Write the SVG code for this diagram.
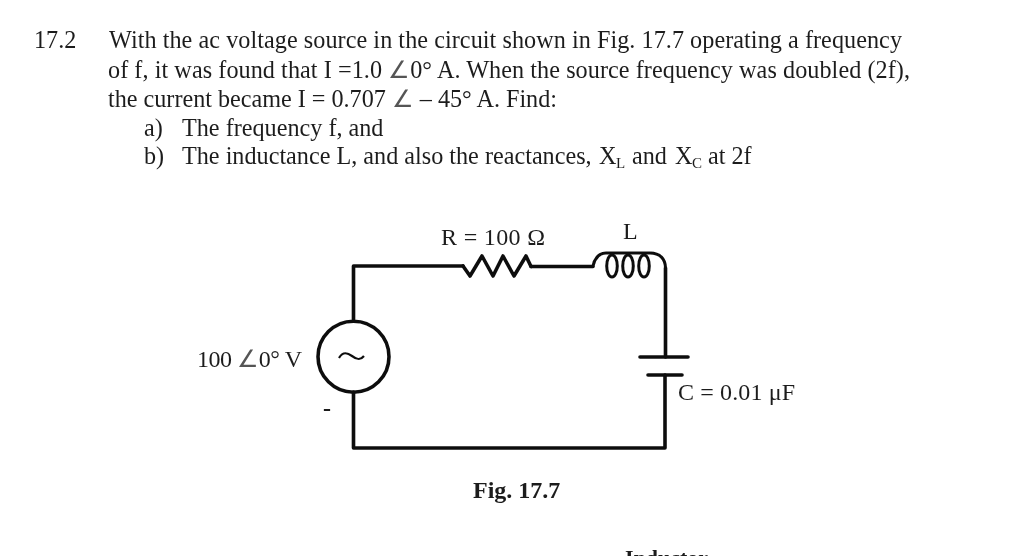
<svg xmlns="http://www.w3.org/2000/svg" width="1024" height="556" viewBox="0 0 1024 556">
<defs><filter id="soft" x="-5%" y="-5%" width="110%" height="110%"><feGaussianBlur stdDeviation="0.45"/></filter></defs>
<style>
text{font-family:"Liberation Serif","Times New Roman",serif;fill:#1e1e1e}
.t{font-size:24.2px}
.d{font-size:24px}
.s{font-size:15px}
.a{fill:#555}
.w{fill:none;stroke:#111;stroke-width:3.6;stroke-linejoin:round;stroke-linecap:round}
.i{fill:none;stroke:#111;stroke-width:3}
</style>
<rect width="1024" height="556" fill="#fff"/>
<g filter="url(#soft)">
<g id="problem-text">
<text class="t" x="34" y="48">17.2</text>
<text class="t" x="109" y="48" textLength="793">With the ac voltage source in the circuit shown in Fig. 17.7 operating a frequency</text>
<text class="t" x="108" y="77.500" textLength="802">of f, it was found that I =1.0 <tspan class="a">∠</tspan>0° A. When the source frequency was doubled (2f),</text>
<text class="t" x="108" y="107" textLength="449">the current became I = 0.707 <tspan class="a">∠</tspan> – 45° A. Find:</text>
<text class="t" x="144" y="135.500">a)</text>
<text class="t" x="182" y="135.500">The frequency f, and</text>
<text class="t" x="144" y="164">b)</text>
<text class="t" x="182" y="164" xml:space="preserve">The inductance L, and also the reactances, <tspan x="599">X</tspan><tspan class="s" x="616" dy="4">L</tspan><tspan x="632" dy="-4">and </tspan><tspan x="675">X</tspan><tspan class="s" x="692" dy="4">C</tspan><tspan x="708" dy="-4">at 2f</tspan></text>
</g>
<g id="connectors">
<path class="w" d="M353.500 321V266H463"/>
<path class="w" d="M531 266.500H593"/>
<path class="w" d="M665.500 268V357"/>
<path class="w" d="M665 375V448H353.500V392"/>
</g>
<g id="source">
<circle class="w" cx="353.500" cy="356.700" r="35.500"/>
<path d="M339 358C343 351 348 353 352 356S360 361 364 356" fill="none" stroke="#111" stroke-width="2.200"/>
<text class="d" x="197" y="367" textLength="105">100 <tspan class="a">∠</tspan>0° V</text>
<text class="d" x="323" y="416" font-weight="700">-</text>
</g>
<g id="resistor">
<path class="w" d="M463 266L470 276L482 256L493 276L503 256L514 276L526 256L531 266.500"/>
<text class="d" x="441" y="245" textLength="104">R = 100 Ω</text>
</g>
<g id="inductor">
<path class="i" d="M593 266C595 257 599 253 606 253H650C660 253 665.500 259 665.500 268"/>
<ellipse class="i" cx="612" cy="266" rx="5.300" ry="11"/>
<ellipse class="i" cx="628" cy="266" rx="5.300" ry="11"/>
<ellipse class="i" cx="644" cy="266" rx="5.300" ry="11"/>
<text class="d" x="623" y="239">L</text>
</g>
<g id="capacitor">
<path class="w" d="M640 357H688"/>
<path class="w" d="M648 375H682"/>
<text class="d" x="678" y="400" textLength="117">C = 0.01 μF</text>
</g>
<g id="caption">
<text class="d" x="473" y="498" font-weight="700">Fig. 17.7</text>
<text x="625" y="565" font-size="22" font-weight="700">Inductor</text>
</g>
</g>
</svg>
